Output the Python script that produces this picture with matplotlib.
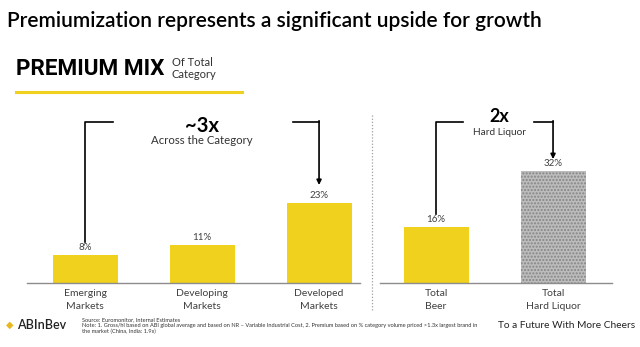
import matplotlib.pyplot as plt
from matplotlib.lines import Line2D

# data
mkt_labels = ['Emerging\nMarkets', 'Developing\nMarkets', 'Developed\nMarkets']
mkt_values = [8, 11, 23]
cat_labels = ['Total\nBeer', 'Total\nHard Liquor']
cat_values = [16, 32]

yellow = '#F0D11E'
text_col = '#404040'
plt.rcParams['font.family'] = ['Lato', 'DejaVu Sans']

fig = plt.figure(figsize=(6.4, 3.47), dpi=100)
W, H = 640, 347


def px_axes(x0, y0, x1, y1):
    # axes placed by pixel box (top-left origin)
    return fig.add_axes([x0 / W, 1 - y1 / H, (x1 - x0) / W, (y1 - y0) / H])


ax1 = px_axes(27, 110, 360, 283)
ax2 = px_axes(380, 110, 612, 283)
ymax = 173 / 3.5

for ax in (ax1, ax2):
    ax.set_ylim(0, ymax)
    for s in ('top', 'right', 'left'):
        ax.spines[s].set_visible(False)
    ax.spines['bottom'].set_color('#8c8c8c')
    ax.spines['bottom'].set_linewidth(1.0)
    ax.set_yticks([])
    ax.tick_params(axis='x', length=0, pad=4, labelsize=7.5, labelcolor=text_col)
    ax.patch.set_alpha(0)

# left panel
x1 = list(range(len(mkt_values)))
ax1.set_xlim(-0.496, 2.35)
bars = ax1.bar(x1, mkt_values, width=0.556, color=yellow)
ax1.set_xticks(x1, mkt_labels, linespacing=1.65)
for b, v in zip(bars, mkt_values):
    ax1.annotate(f'{v}%', (b.get_x() + b.get_width() / 2, v), xytext=(0, 2),
                 textcoords='offset points', ha='center', va='bottom',
                 fontsize=7, color=text_col)

# right panel
x2 = list(range(len(cat_values)))
ax2.set_xlim(-0.479, 1.504)
b1 = ax2.bar(x2[0], cat_values[0], width=0.556, color=yellow)
b2 = ax2.bar(x2[1], cat_values[1], width=0.556, color='#bcbcbc',
             hatch='.....', edgecolor='#858585', linewidth=0)
ax2.set_xticks(x2, cat_labels, linespacing=1.65)
for xi, v in zip(x2, cat_values):
    ax2.annotate(f'{v}%', (xi, v), xytext=(0, 2), textcoords='offset points',
                 ha='center', va='bottom', fontsize=7, color=text_col)

# brackets
top = 46
lk = dict(color='black', lw=1.2)
ax1.plot([0, 0, 0.24], [mkt_values[0] + 3.8, top, top], clip_on=False, **lk)
ax1.plot([2 - 0.22, 2], [top, top], clip_on=False, **lk)
ax1.annotate('', xy=(2, mkt_values[2] + 5), xytext=(2, top + 0.35),
             arrowprops=dict(arrowstyle='-|>', color='black', lw=1.2,
                             mutation_scale=7, shrinkA=0, shrinkB=0))
ax1.text(1.0, 45, '~3x', ha='center', va='center', fontsize=14.5,
         fontweight='bold', color='black')
ax1.text(1.0, 40.6, 'Across the Category', ha='center', va='center',
         fontsize=8.2, color='#333333')

ax2.plot([0, 0, 0.23], [cat_values[0] + 3.8, top, top], clip_on=False, **lk)
ax2.plot([1 - 0.16, 1], [top, top], clip_on=False, **lk)
ax2.annotate('', xy=(1, cat_values[1] + 3.4), xytext=(1, top + 0.35),
             arrowprops=dict(arrowstyle='-|>', color='black', lw=1.2,
                             mutation_scale=7, shrinkA=0, shrinkB=0))
ax2.text(0.54, 47.7, '2x', ha='center', va='center', fontsize=13,
         fontweight='bold', color='black')
ax2.text(0.54, 42.9, 'Hard Liquor', ha='center', va='center',
         fontsize=7.3, color='#333333')

# dotted separator
fig.add_artist(Line2D([372 / W, 372 / W], [1 - 115 / H, 1 - 310 / H],
                      color='#a0a0a0', lw=0.9, ls=(0, (1, 1.5))))

# titles
fig.text(7 / W, 1 - 21 / H, 'Premiumization represents a significant upside for growth',
         fontsize=15, fontweight='semibold', color='black', va='center', ha='left')
fig.text(16 / W, 1 - 69 / H, 'PREMIUM MIX', fontsize=16.2, fontweight='bold',
         family=['Roboto', 'DejaVu Sans'],
         color='black', va='center', ha='left')
fig.text(172 / W, 1 - 62 / H, 'Of Total', fontsize=8, color='#333333', va='center')
fig.text(172 / W, 1 - 75 / H, 'Category', fontsize=8, color='#333333', va='center')
fig.add_artist(Line2D([16 / W, 242 / W], [1 - 92 / H, 1 - 92 / H], color=yellow, lw=2.2))

# footer
fig.text(6 / W, 1 - 325 / H, '\u25c6', fontsize=7, color='#E8B820', va='center')
fig.text(17 / W, 1 - 325 / H, 'ABInBev', fontsize=9, fontweight='semibold',
         color='#222222', va='center')
fig.text(82 / W, 1 - 320 / H, 'Source: Euromonitor, Internal Estimates',
         fontsize=4.1, color='#333333', va='center')
fig.text(82 / W, 1 - 325.5 / H,
         'Note: 1. Gross/hl based on ABI global average and based on NR \u2013 Variable Industrial Cost, '
         '2. Premium based on % category volume priced >1.3x largest brand in',
         fontsize=4.1, color='#333333', va='center')
fig.text(82 / W, 1 - 331 / H, 'the market (China, India: 1.9x)',
         fontsize=4.1, color='#333333', va='center')
fig.text(635 / W, 1 - 325 / H, 'To a Future With More Cheers', fontsize=7.3,
         color='#222222', va='center', ha='right')

fig.savefig('out.png', dpi=100)
